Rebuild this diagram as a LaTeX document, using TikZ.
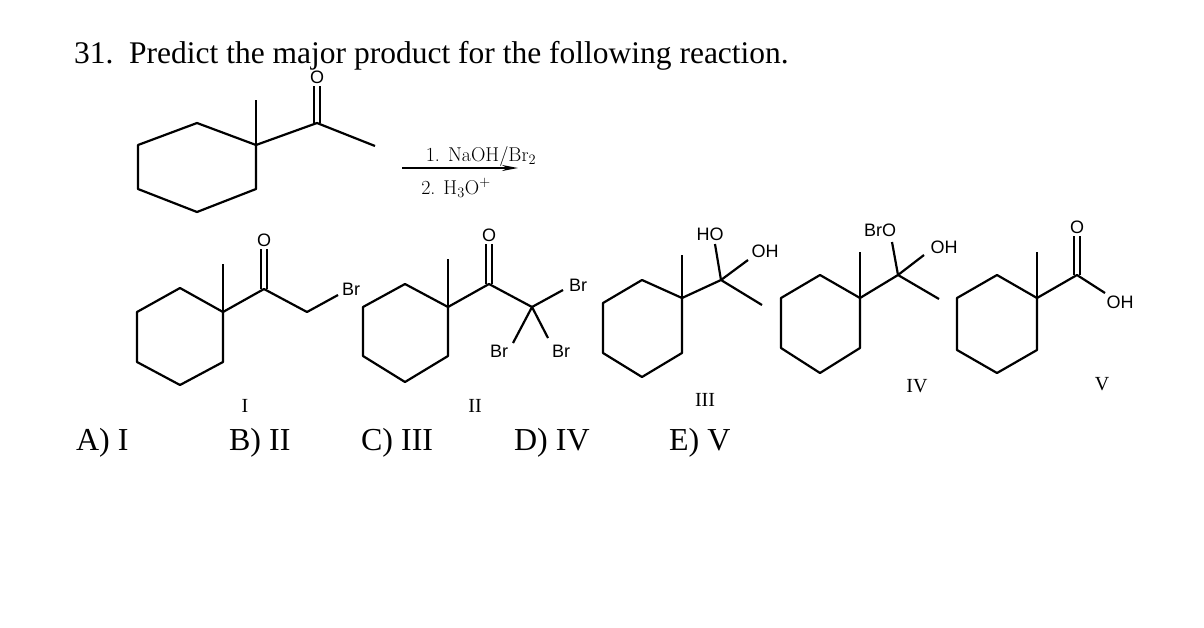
\documentclass[tikz,border=0pt]{standalone}
\usepackage{fontspec}
\newfontfamily\tms{Liberation Serif}
\newfontfamily\ars{Liberation Sans}
\usetikzlibrary{arrows.meta}
\begin{document}
\begin{tikzpicture}[x=1pt,y=-1pt,line width=2.2pt,line join=round,
  atm/.style={font=\ars\fontsize{18}{18}\selectfont,inner sep=0pt},
  num/.style={font=\tms\fontsize{20}{20}\selectfont,inner sep=0pt},
  ans/.style={font=\tms\fontsize{32}{32}\selectfont,inner sep=0pt,anchor=base west},
  rg/.style={font=\fontsize{20}{20}\selectfont,inner sep=0pt}]
\useasboundingbox (0,0) rectangle (1204,627);
\fill[white] (0,0) rectangle (1204,627);
\node[ans,font=\tms\fontsize{31.5}{31.5}\selectfont] (q) at (73,63) {31.\ \ Predict the major product for the following reaction.};
% starting material
\draw (256,145)--(197,123)--(138,145)--(138,189)--(197,212)--(256,189)--cycle;
\draw (256,145)--(256,100);
\draw (256,145)--(317,123)--(375,146);
\draw ([xshift=-2.8]317,123)--([xshift=-2.8]317,86);
\draw ([xshift=2.8]317,123)--([xshift=2.8]317,86);
\node[atm] (o0) at (317,77) {O};
% arrow
\coordinate (a1) at (402,168); \coordinate (a2) at (518,168);
\draw[line width=1.8pt,-{Stealth[length=16pt,width=6pt]}] (a1)--(a2);
\node[rg] (r1) at (481,156) {1. NaOH/Br$_2$};
\node[rg] (r2) at (456,188) {2. H$_3$O$^+$};
% I
\draw (223,312)--(180,288)--(137,312)--(137,362)--(180,385)--(223,362)--cycle;
\draw (223,312)--(223,264);
\draw (223,312)--(264,289)--(307,312)--(338,295);
\draw ([xshift=-2.8]264,289)--([xshift=-2.8]264,249);
\draw ([xshift=2.8]264,289)--([xshift=2.8]264,249);
\node[atm] (o1) at (264,240) {O};
\node[atm] (b1) at (351,289) {Br};
\node[num] (n1) at (245,406) {I};
% II
\draw (448,307)--(405,284)--(363,307)--(363,356)--(405,382)--(448,356)--cycle;
\draw (448,307)--(448,259);
\draw (448,307)--(489,284)--(532,307);
\draw ([xshift=-2.8]489,284)--([xshift=-2.8]489,244);
\draw ([xshift=2.8]489,284)--([xshift=2.8]489,244);
\node[atm] (o2) at (489,235) {O};
\draw (532,307)--(563,290); \draw (532,307)--(513,343); \draw (532,307)--(548,338);
\node[atm] (b2) at (578,285) {Br};
\node[atm] (b3) at (499,351) {Br};
\node[atm] (b4) at (561,351) {Br};
\node[num] (n2) at (475,406) {II};
% III
\draw (682,298)--(642,280)--(603,303)--(603,353)--(642,377)--(682,353)--cycle;
\draw (682,298)--(682,255);
\draw (682,298)--(721,280)--(762,305);
\draw (721,280)--(715,244); \draw (721,280)--(748,260);
\node[atm] (h3) at (710,234) {HO};
\node[atm] (oh3) at (765,251) {OH};
\node[num] (n3) at (705,400) {III};
% IV
\draw (860,298)--(820,275)--(781,298)--(781,348)--(820,373)--(860,348)--cycle;
\draw (860,298)--(860,252);
\draw (860,298)--(898,275)--(939,299);
\draw (898,275)--(892,242); \draw (898,275)--(924,255);
\node[atm] (bo) at (880,230) {BrO};
\node[atm] (oh4) at (944,247) {OH};
\node[num] (n4) at (917,386) {IV};
% V
\draw (1037,298)--(997,275)--(957,298)--(957,350)--(997,373)--(1037,350)--cycle;
\draw (1037,298)--(1037,252);
\draw (1037,298)--(1077,275)--(1105,293);
\draw ([xshift=-2.8]1077,275)--([xshift=-2.8]1077,236);
\draw ([xshift=2.8]1077,275)--([xshift=2.8]1077,236);
\node[atm] (o5) at (1077,227) {O};
\node[atm] (oh5) at (1120,302) {OH};
\node[num] (n5) at (1102,384) {V};
% answers
\node[ans] (aa) at (75,450) {A)\ I};
\node[ans] (ab) at (228,450) {B)\ II};
\node[ans] (ac) at (360,450) {C)\ III};
\node[ans] (ad) at (513,450) {D)\ IV};
\node[ans] (ae) at (668,450) {E)\ V};
\end{tikzpicture}
\end{document}
